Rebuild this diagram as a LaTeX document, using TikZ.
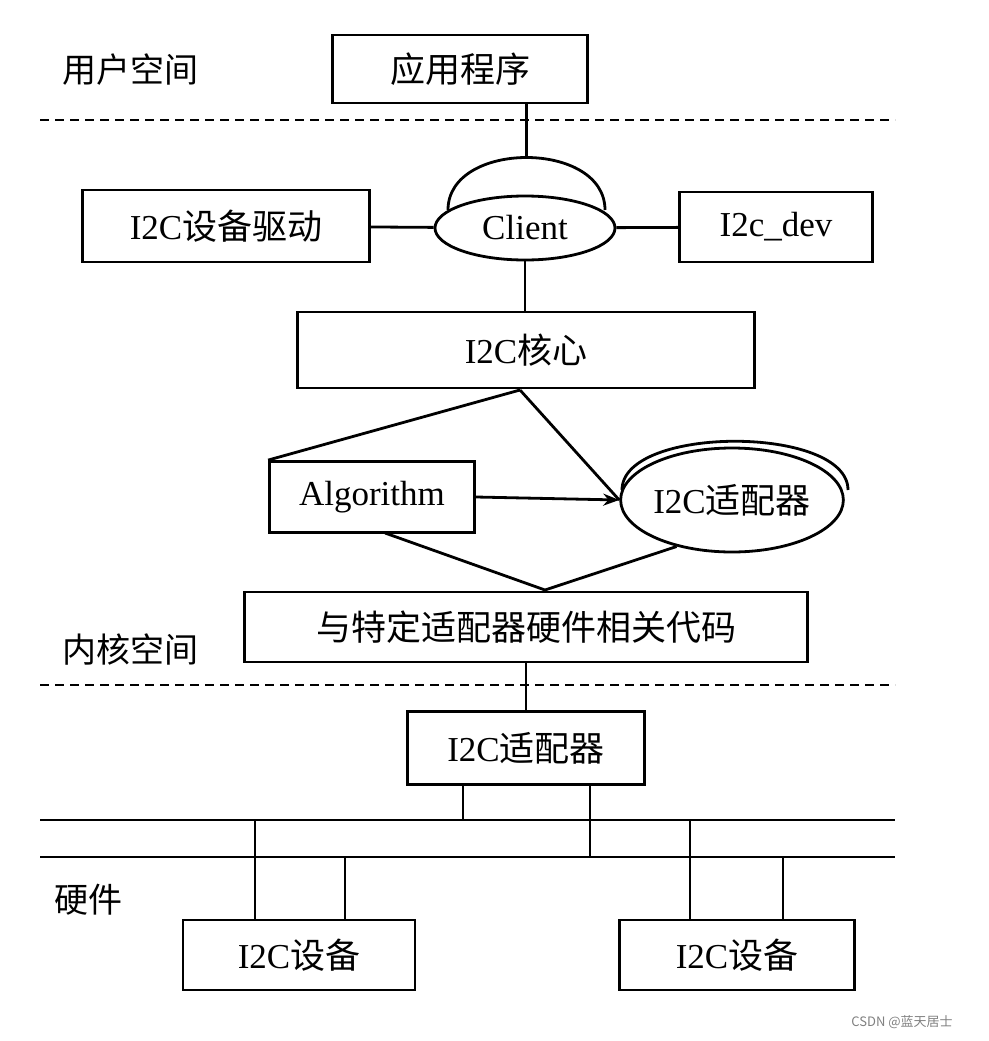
\documentclass[tikz,border=0pt]{standalone}
\usepackage{fontspec}
\setmainfont{Liberation Serif}
\newfontfamily\cjk{Noto Sans CJK SC}
\usetikzlibrary{arrows.meta,shapes.geometric}
\begin{document}
\begin{tikzpicture}[x=1pt,y=-1pt,line width=2.8pt,
  box/.style={draw,rectangle,inner sep=0pt,font=\fontsize{35}{37}\selectfont},
  lab/.style={font=\cjk\fontsize{34}{36}\selectfont},
  sep/.style={dashed,dash pattern=on 9pt off 6pt,line width=2pt}]
\useasboundingbox (0,0) rectangle (988,1041);
\node[lab] (us) at (130,70) {用户空间};
\node[lab] (ks) at (130,650) {内核空间};
\node[lab] (hw) at (88,900) {硬件};
\node[box,minimum width=255pt,minimum height=68pt] (app) at (460,69) {\cjk 应用程序};
\draw[sep] (40,120) -- (895,120);
\node[draw,ellipse,minimum width=180pt,minimum height=64pt,inner sep=0pt,font=\fontsize{35}{37}\selectfont] (cl) at (525,228) {Client};
\draw (448,210) .. controls (448,140) and (605,140) .. (605,210);
\coordinate (arct) at (526.5,157.5);
\node[box,minimum width=287pt,minimum height=72pt] (drv) at (226,226) {I2C{\cjk 设备驱动}};
\node[box,minimum width=193pt,minimum height=70pt] (dev) at (776,227) {I2c\_dev};
\draw (app.south -| arct) -- (arct);
\draw (drv) -- (cl);
\draw (cl) -- (dev);
\node[box,minimum width=457pt,minimum height=76pt] (core) at (526,350) {I2C{\cjk 核心}};
\draw (cl.south) -- (core.north -| cl.south);
\node[box,minimum width=205pt,minimum height=71pt] (alg) at (372,497) {Algorithm};
\node[draw,ellipse,minimum width=220pt,minimum height=104pt,inner sep=0pt,font=\fontsize{35}{37}\selectfont] (ad) at (732,500) {I2C{\cjk 适配器}};
\draw (622,490) .. controls (622,425) and (848,425) .. (848,490);
\coordinate (top) at (520,390);
\coordinate (bot) at (545,590);
\draw (top) -- (alg.north west);
\draw (top) -- (ad.west);
\draw[-{Stealth[length=16pt,width=12pt]}] (alg.east) -- (ad.west);
\node[box,minimum width=563pt,minimum height=70pt] (hwc) at (526,627) {\cjk 与特定适配器硬件相关代码};
\draw (385,533) -- (bot) -- (ad.220);
\draw[sep] (40,685) -- (895,685);
\node[box,minimum width=237pt,minimum height=73pt] (ha) at (526,748) {I2C{\cjk 适配器}};
\draw (hwc.south) -- (ha.north);
\coordinate (b1l) at (40,820); \coordinate (b1r) at (895,820);
\coordinate (b2l) at (40,857); \coordinate (b2r) at (895,857);
\draw (b1l) -- (b1r);
\draw (b2l) -- (b2r);
\draw (463,785) -- (463,820);
\draw (590,785) -- (590,857);
\node[box,minimum width=232pt,minimum height=70pt] (d1) at (299,955) {I2C{\cjk 设备}};
\node[box,minimum width=235pt,minimum height=70pt] (d2) at (737,955) {I2C{\cjk 设备}};
\draw (255,820) -- (255,920);
\draw (345,857) -- (345,920);
\draw (690,820) -- (690,920);
\draw (783,857) -- (783,920);
\node[font=\cjk\fontsize{13}{14}\selectfont,text=gray] (wm) at (902,1022) {CSDN @蓝天居士};
\end{tikzpicture}
\end{document}
